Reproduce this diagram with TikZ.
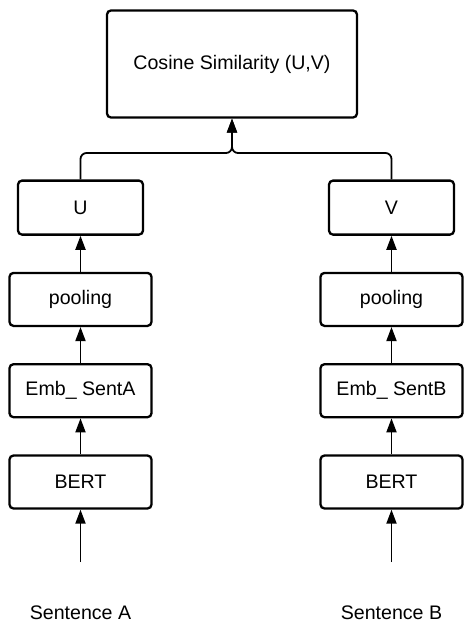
\documentclass[tikz,border=0pt]{standalone}
\usepackage{fontspec}
\setmainfont{Liberation Sans}
\usepackage{tikz}
\usetikzlibrary{arrows.meta,positioning}

\begin{document}
\begin{tikzpicture}[
  x=1pt, y=-1pt,
  box/.style={draw, line width=2.3pt, rounded corners=4pt, minimum width=142pt,
              minimum height=53pt, inner sep=0pt, align=center,
              font=\fontsize{19.6}{23}\selectfont},
  vec/.style={box, minimum width=125pt, minimum height=54pt},
  arr/.style={-{Triangle[width=10pt,length=14pt]}, line width=1.8pt},
  lbl/.style={font=\fontsize{19.6}{23}\selectfont, inner sep=0pt},
  node distance=36pt
]
  \useasboundingbox (0,0) rectangle (474,632);

  % left branch
  \node[box] (bertA) at (80.5,482) {BERT};
  \node[box, above=of bertA] (embA) {Emb\_ SentA};
  \node[box, above=of embA] (poolA) {pooling};
  \node[vec, above=of poolA] (U) {U};

  % right branch
  \node[box] (bertB) at (391.5,482) {BERT};
  \node[box, above=of bertB] (embB) {Emb\_ SentB};
  \node[box, above=of embB] (poolB) {pooling};
  \node[vec, above=of poolB] (V) {V};

  % top
  \node[box, minimum width=250pt, minimum height=107pt] (cos) at (232,64) {Cosine Similarity (U,V)};

  % inputs
  \node[lbl] (sentA) at (80.5,613) {Sentence A};
  \node[lbl] (sentB) at (391.5,613) {Sentence B};
  \coordinate (inA) at (80.5,562);
  \coordinate (inB) at (391.5,562);
  \coordinate (join) at (232,153);

  \draw[arr] (inA) -- (bertA);
  \draw[arr] (bertA) -- (embA);
  \draw[arr] (embA) -- (poolA);
  \draw[arr] (poolA) -- (U);

  \draw[arr] (inB) -- (bertB);
  \draw[arr] (bertB) -- (embB);
  \draw[arr] (embB) -- (poolB);
  \draw[arr] (poolB) -- (V);

  \draw[arr, rounded corners=6pt] (U.north) |- (join) -- (cos.south);
  \draw[arr, rounded corners=6pt] (V.north) |- (join) -- (cos.south);
\end{tikzpicture}
\end{document}
